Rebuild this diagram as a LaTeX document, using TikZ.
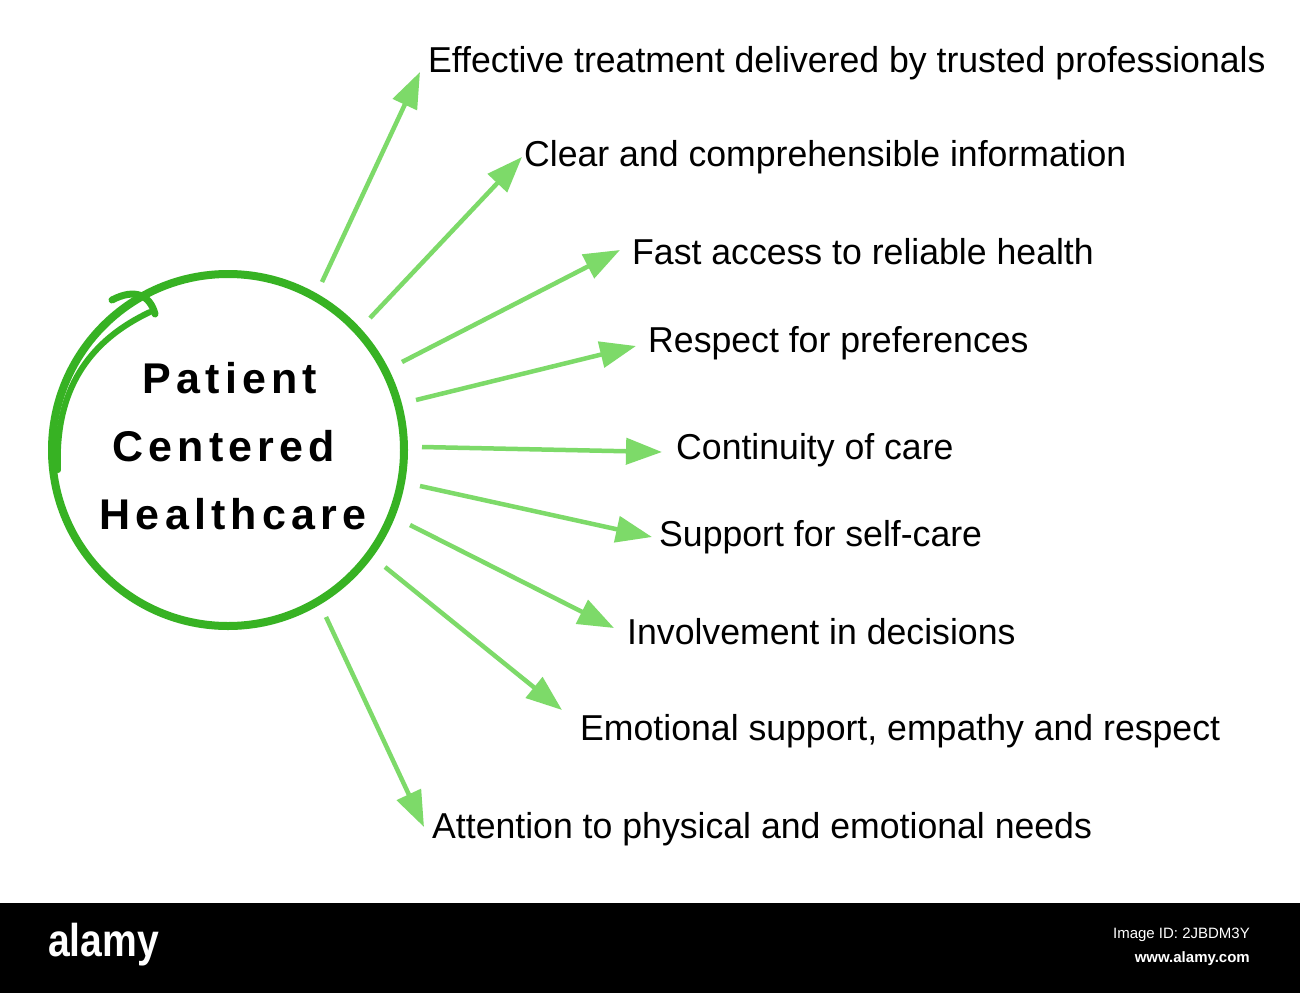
\documentclass[tikz,border=0pt]{standalone}
\usepackage{fontspec}
\setmainfont{Liberation Sans}
\newfontfamily\spaced[LetterSpace=12]{Liberation Sans}
\usetikzlibrary{arrows.meta}
\definecolor{lg}{RGB}{125,218,105}
\definecolor{dg}{RGB}{55,178,35}
\tikzset{
 arr/.style={draw=lg,line width=4.5pt,-{Triangle[length=36pt,width=26pt]}},
 lbl/.style={anchor=west,font=\fontsize{36}{40}\selectfont,xscale=0.99,inner sep=0pt,text=black},
 ctr/.style={font=\spaced\bfseries\fontsize{43}{46}\selectfont,inner sep=0pt}
}
\begin{document}
\begin{tikzpicture}[x=1pt,y=-1pt]
\useasboundingbox (0,0) rectangle (1300,993);
\fill[white] (0,0) rectangle (1300,993);
% circle
\draw[dg,line width=8pt] (228,450) circle[radius=176];
\draw[dg,line width=7pt,line cap=round] (112,300) .. controls (135,288) and (150,295) .. (155,314);
\draw[dg,line width=6pt,line cap=round] (150,312) .. controls (80,345) and (55,400) .. (58,470);
\node[ctr] (p) at (230,378) {Patient};
\node[ctr] (c) at (224,446) {Centered};
\node[ctr] (h) at (233,514) {Healthcare};
\coordinate (s1) at (322,282); \coordinate (s2) at (370,318); \coordinate (s3) at (402,362);
\coordinate (s4) at (416,400); \coordinate (s5) at (422,447); \coordinate (s6) at (420,486);
\coordinate (s7) at (410,525); \coordinate (s8) at (385,567); \coordinate (s9) at (326,617);
\coordinate (e1) at (420,72); \coordinate (e2) at (522,157); \coordinate (e3) at (620,250);
\coordinate (e4) at (636,346); \coordinate (e5) at (662,452); \coordinate (e6) at (652,537);
\coordinate (e7) at (614,628); \coordinate (e8) at (562,710); \coordinate (e9) at (424,827);
\foreach \i in {1,...,9} \draw[arr] (s\i) -- (e\i);
\node[lbl] (t1) at (428,63) {Effective treatment delivered by trusted professionals};
\node[lbl] (t2) at (524,157) {Clear and comprehensible information};
\node[lbl] (t3) at (632,252) {Fast access to reliable health};
\node[lbl] (t4) at (648,343) {Respect for preferences};
\node[lbl] (t5) at (676,450) {Continuity of care};
\node[lbl] (t6) at (659,537) {Support for self-care};
\node[lbl] (t7) at (627,632) {Involvement in decisions};
\node[lbl] (t8) at (580,731) {Emotional support, empathy and respect};
\node[lbl] (t9) at (432,829) {Attention to physical and emotional needs};
\fill[black] (0,903) rectangle (1300,993);
\node[anchor=west,text=white,font=\bfseries\fontsize{46}{48}\selectfont,xscale=0.85,inner sep=0pt] (al) at (48,945) {alamy};
\node[anchor=east,text=white,font=\fontsize{15}{17}\selectfont,inner sep=0pt] (id) at (1250,935) {Image ID: 2JBDM3Y};
\node[anchor=east,text=white,font=\bfseries\fontsize{15}{17}\selectfont,inner sep=0pt] (www) at (1250,959) {www.alamy.com};
\end{tikzpicture}
\end{document}
